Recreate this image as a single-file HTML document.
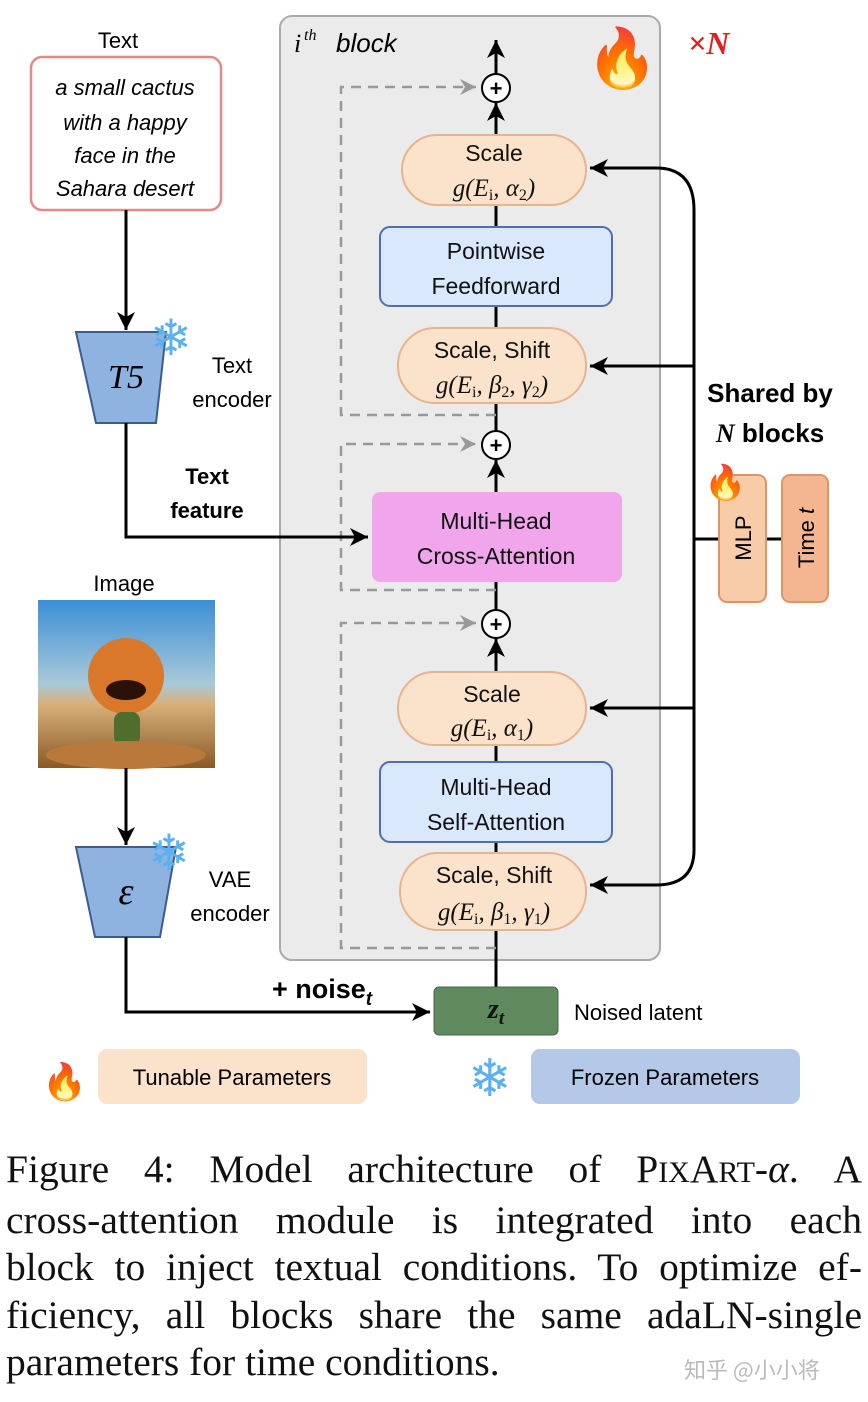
<!DOCTYPE html>
<html><head><meta charset="utf-8"><style>
html,body{margin:0;padding:0;background:#fff;}
svg{display:block;}
.s{font-family:"Liberation Sans",sans-serif;}
.m{font-family:"Liberation Serif",serif;font-style:italic;}
.cap{position:absolute;left:6px;width:856px;top:1146px;font-family:"Liberation Serif",serif;font-size:39.5px;line-height:47.5px;color:#111;}
.cap div{text-align:justify;text-align-last:justify;white-space:nowrap;}
.cap div.l{text-align-last:left;}
</style></head><body>
<div style="position:relative;width:868px;height:1402px;overflow:hidden;">
<svg width="868" height="1402" viewBox="0 0 868 1402">
<defs>
<marker id="g" markerWidth="20" markerHeight="20" refX="16" refY="8" orient="auto" markerUnits="userSpaceOnUse"><path d="M0,0 L16,8 L0,16 L5,8 Z" fill="#999"/></marker>
<marker id="b" markerWidth="22" markerHeight="22" refX="18" refY="9" orient="auto" markerUnits="userSpaceOnUse"><path d="M0,0 L18,9 L0,18 L5,9 Z" fill="#000"/></marker>
</defs>
<rect x="280" y="16" width="380" height="944" rx="12" fill="#ebebeb" stroke="#aaa" stroke-width="2"/>
<text x="294" y="52" class="m" font-size="26">i</text><text x="304" y="40" class="m" font-size="16">th</text>
<text x="336" y="52" class="s" font-size="26" font-style="italic">block</text>
<text x="586" y="78" font-size="58">🔥</text>
<text x="688" y="54" class="m" font-size="32" fill="#e02020" font-weight="bold">×N</text>
<g stroke="#000" stroke-width="3" fill="none">
<line x1="496" y1="987" x2="496" y2="930"/>
<line x1="496" y1="853" x2="496" y2="842"/>
<line x1="496" y1="762" x2="496" y2="745"/>
<line x1="496" y1="672" x2="496" y2="639" marker-end="url(#b)"/>
<line x1="496" y1="609" x2="496" y2="582"/>
<line x1="496" y1="492" x2="496" y2="460" marker-end="url(#b)"/>
<line x1="496" y1="430" x2="496" y2="403"/>
<line x1="496" y1="328" x2="496" y2="306"/>
<line x1="496" y1="227" x2="496" y2="205"/>
<line x1="496" y1="135" x2="496" y2="103" marker-end="url(#b)"/>
<line x1="496" y1="73" x2="496" y2="40" marker-end="url(#b)"/>
</g>
<g stroke="#999" stroke-width="2.5" fill="none" stroke-dasharray="10,7">
<polyline points="496,415 341,415 341,87 476,87" marker-end="url(#g)"/>
<polyline points="496,590 341,590 341,444 476,444" marker-end="url(#g)"/>
<polyline points="496,948 341,948 341,623 476,623" marker-end="url(#g)"/>
</g>
<g fill="#fff" stroke="#000" stroke-width="2">
<circle cx="496" cy="88" r="14"/><circle cx="496" cy="445" r="14"/><circle cx="496" cy="624" r="14"/>
</g>
<g class="s" font-size="22" text-anchor="middle" font-weight="bold"><text x="496" y="96">+</text><text x="496" y="453">+</text><text x="496" y="632">+</text></g>
<g fill="#fbe2cb" stroke="#e6b48e" stroke-width="2">
<rect x="402" y="135" width="184" height="70" rx="35"/>
<rect x="398" y="328" width="188" height="75" rx="37"/>
<rect x="398" y="672" width="188" height="73" rx="36"/>
<rect x="400" y="853" width="186" height="77" rx="38"/>
</g>
<g fill="#dae8fb" stroke="#4f6fb0" stroke-width="2">
<rect x="380" y="227" width="232" height="79" rx="10"/>
<rect x="380" y="762" width="232" height="80" rx="10"/>
</g>
<rect x="372" y="492" width="250" height="90" rx="8" fill="#f1a6ec"/>
<g class="s" font-size="23" text-anchor="middle" fill="#111">
<text x="494" y="161">Scale</text>
<text x="496" y="259">Pointwise</text><text x="496" y="294">Feedforward</text>
<text x="492" y="358">Scale, Shift</text>
<text x="496" y="529">Multi-Head</text><text x="496" y="564">Cross-Attention</text>
<text x="492" y="702">Scale</text>
<text x="496" y="795">Multi-Head</text><text x="496" y="830">Self-Attention</text>
<text x="494" y="883">Scale, Shift</text>
</g>
<g class="m" font-size="25" text-anchor="middle" fill="#111">
<text x="494" y="196">g(E<tspan font-size="16" dy="4" font-style="normal">i</tspan><tspan dy="-4">, α</tspan><tspan font-size="16" dy="4" font-style="normal">2</tspan><tspan dy="-4">)</tspan></text>
<text x="492" y="393">g(E<tspan font-size="16" dy="4" font-style="normal">i</tspan><tspan dy="-4">, β</tspan><tspan font-size="16" dy="4" font-style="normal">2</tspan><tspan dy="-4">, γ</tspan><tspan font-size="16" dy="4" font-style="normal">2</tspan><tspan dy="-4">)</tspan></text>
<text x="492" y="736">g(E<tspan font-size="16" dy="4" font-style="normal">i</tspan><tspan dy="-4">, α</tspan><tspan font-size="16" dy="4" font-style="normal">1</tspan><tspan dy="-4">)</tspan></text>
<text x="494" y="920">g(E<tspan font-size="16" dy="4" font-style="normal">i</tspan><tspan dy="-4">, β</tspan><tspan font-size="16" dy="4" font-style="normal">1</tspan><tspan dy="-4">, γ</tspan><tspan font-size="16" dy="4" font-style="normal">1</tspan><tspan dy="-4">)</tspan></text>
</g>
<g stroke="#000" stroke-width="3" fill="none">
<path d="M694,210 Q694,168 656,168 L590,168" marker-end="url(#b)"/>
<path d="M694,210 L694,850 Q694,885 656,885 L590,885" marker-end="url(#b)"/>
<line x1="694" y1="366" x2="590" y2="366" marker-end="url(#b)"/>
<line x1="694" y1="708" x2="590" y2="708" marker-end="url(#b)"/>
<line x1="694" y1="539" x2="719" y2="539"/>
<line x1="766" y1="539" x2="782" y2="539"/>
</g>
<text x="770" y="402" class="s" font-size="26" text-anchor="middle" font-weight="bold">Shared by</text>
<text x="770" y="442" class="s" font-size="26" text-anchor="middle" font-weight="bold"><tspan class="m">N</tspan> blocks</text>
<rect x="719" y="475" width="47" height="127" rx="8" fill="#f8cba9" stroke="#de9566" stroke-width="2"/>
<rect x="782" y="475" width="46" height="127" rx="8" fill="#f3b690" stroke="#de9566" stroke-width="2"/>
<text x="704" y="494" font-size="34">🔥</text>
<text transform="translate(751,538) rotate(-90)" class="s" font-size="22" text-anchor="middle">MLP</text>
<text transform="translate(814,538) rotate(-90)" class="s" font-size="22" text-anchor="middle">Time <tspan font-style="italic">t</tspan></text>
<text x="118" y="48" class="s" font-size="22" text-anchor="middle">Text</text>
<rect x="31" y="57" width="190" height="153" rx="11" fill="#fff" stroke="#e08a8a" stroke-width="2.5"/>
<g class="s" font-size="22" font-style="italic" text-anchor="middle"><text x="125" y="95">a small cactus</text><text x="125" y="130">with a happy</text><text x="125" y="163">face in the</text><text x="125" y="196">Sahara desert</text></g>
<line x1="126" y1="210" x2="126" y2="330" stroke="#000" stroke-width="3" marker-end="url(#b)"/>
<polygon points="76,332 166,332 156,423 96,423" fill="#8fb3e0" stroke="#3b5c8f" stroke-width="2"/>
<text x="126" y="388" class="m" font-size="34" text-anchor="middle">T5</text>
<text x="150" y="355" font-size="50" fill="#5ab0f0">❄</text>
<text x="232" y="373" class="s" font-size="22" text-anchor="middle">Text</text>
<text x="232" y="407" class="s" font-size="22" text-anchor="middle">encoder</text>
<text x="207" y="484" class="s" font-size="22" text-anchor="middle" font-weight="bold">Text</text>
<text x="207" y="518" class="s" font-size="22" text-anchor="middle" font-weight="bold">feature</text>
<polyline points="126,423 126,537 368,537" fill="none" stroke="#000" stroke-width="3" marker-end="url(#b)"/>
<text x="124" y="591" class="s" font-size="22" text-anchor="middle">Image</text>
<defs><linearGradient id="sky" x1="0" y1="0" x2="0" y2="1"><stop offset="0" stop-color="#3b8fd6"/><stop offset="0.5" stop-color="#a9c9d8"/><stop offset="0.62" stop-color="#d8b07a"/><stop offset="1" stop-color="#8a5a26"/></linearGradient></defs>
<rect x="38" y="600" width="177" height="168" fill="url(#sky)"/>
<circle cx="126" cy="676" r="38" fill="#d9782a"/>
<ellipse cx="126" cy="690" rx="20" ry="10" fill="#2a1208"/>
<rect x="114" y="712" width="26" height="33" rx="8" fill="#4f6d2c"/>
<ellipse cx="126" cy="755" rx="80" ry="14" fill="#b8793a"/>
<line x1="126" y1="768" x2="126" y2="845" stroke="#000" stroke-width="3" marker-end="url(#b)"/>
<polygon points="76,847 176,847 160,937 95,937" fill="#8fb3e0" stroke="#3b5c8f" stroke-width="2"/>
<text x="126" y="904" class="m" font-size="38" text-anchor="middle">ε</text>
<text x="148" y="870" font-size="50" fill="#5ab0f0">❄</text>
<text x="230" y="887" class="s" font-size="22" text-anchor="middle">VAE</text>
<text x="230" y="921" class="s" font-size="22" text-anchor="middle">encoder</text>
<polyline points="126,937 126,1012 430,1012" fill="none" stroke="#000" stroke-width="3" marker-end="url(#b)"/>
<text x="272" y="998" class="s" font-size="27" font-weight="bold">+ noise<tspan font-size="19" dy="7" font-style="italic">t</tspan></text>
<rect x="434" y="987" width="124" height="48" rx="5" fill="#5e8a5e" stroke="#456a45"/>
<text x="496" y="1018" class="m" font-size="28" font-weight="bold" text-anchor="middle" fill="#111">z<tspan font-size="19" dy="6">t</tspan></text>
<text x="574" y="1020" class="s" font-size="22">Noised latent</text>
<text x="42" y="1094" font-size="36">🔥</text>
<rect x="98" y="1049" width="269" height="55" rx="9" fill="#fbe2cb"/>
<text x="232" y="1085" class="s" font-size="22" text-anchor="middle">Tunable Parameters</text>
<text x="468" y="1096" font-size="52" fill="#5ab0f0">❄</text>
<rect x="531" y="1049" width="269" height="55" rx="9" fill="#b4c8e8"/>
<text x="665" y="1085" class="s" font-size="22" text-anchor="middle">Frozen Parameters</text>
<text x="684" y="1378" font-family="'Noto Sans CJK SC',sans-serif" font-size="22" fill="#bbb">知乎 @小小将</text>
</svg>
<div class="cap">
<div>Figure 4: Model architecture of P<span style="font-size:30px">IX</span>A<span style="font-size:30px">RT</span>-<i>α</i>. A</div>
<div>cross-attention module is integrated into each</div>
<div>block to inject textual conditions. To optimize ef-</div>
<div>ficiency, all blocks share the same adaLN-single</div>
<div class="l">parameters for time conditions.</div>
</div>
</div>
</body></html>
